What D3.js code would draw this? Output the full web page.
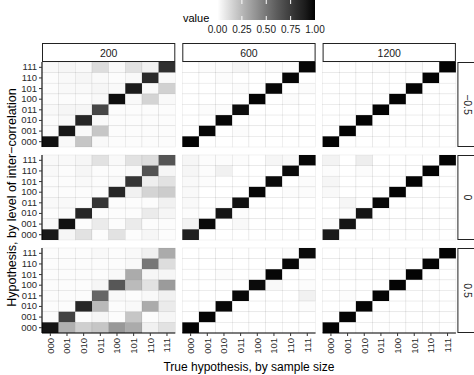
<!DOCTYPE html>
<html>
<head>
<meta charset="utf-8">
<script src="https://cdn.jsdelivr.net/npm/d3@7"></script>
<style>
  body { margin: 0; background: #fff; }
  text { font-family: "Liberation Sans", Arial, sans-serif; }
</style>
</head>
<body>
<div id="chart"></div>
<script>
// categories
var hyps = ["000", "001", "010", "011", "100", "101", "110", "111"];
var sampleSizes = ["200", "600", "1200"];
var correlations = ["\u22120.5", "0", "0.5"];
var legendTicks = [0, 0.25, 0.5, 0.75, 1];

// each panel: rows = hypothesis from 111 (top) down to 000, cols = true hypothesis 000..111
var n200_neg = [
  [0.02,0.03,0.02,0.12,0.02,0.10,0.05,0.80],
  [0.01,0.02,0.03,0.02,0.01,0.02,0.83,0.02],
  [0.01,0.02,0.02,0.03,0.02,0.90,0.02,0.16],
  [0.01,0.01,0.01,0.02,0.96,0.02,0.15,0.02],
  [0.02,0.03,0.03,0.70,0.01,0.01,0.01,0.01],
  [0.01,0.02,0.85,0.02,0.01,0.01,0.01,0.01],
  [0.01,0.92,0.02,0.20,0.01,0.01,0.01,0.01],
  [0.95,0.02,0.20,0.02,0.01,0.01,0.01,0.01]
];
var n200_zero = [
  [0.02,0.02,0.03,0.10,0.02,0.10,0.12,0.64],
  [0.02,0.01,0.03,0.01,0.01,0.02,0.65,0.03],
  [0.01,0.01,0.02,0.01,0.02,0.78,0.06,0.10],
  [0.01,0.01,0.01,0.01,0.85,0.05,0.15,0.18],
  [0.02,0.02,0.01,0.78,0.01,0.01,0.01,0.05],
  [0.01,0.01,0.85,0.01,0.01,0.01,0.07,0.03],
  [0.02,0.95,0.01,0.07,0.01,0.07,0.01,0.01],
  [0.92,0.03,0.10,0.01,0.10,0.01,0.03,0.01]
];
var n200_pos = [
  [0.01,0.01,0.01,0.02,0.01,0.02,0.05,0.30],
  [0.01,0.01,0.01,0.01,0.01,0.02,0.50,0.12],
  [0.01,0.01,0.01,0.01,0.02,0.30,0.03,0.03],
  [0.01,0.01,0.01,0.03,0.63,0.24,0.10,0.36],
  [0.01,0.01,0.01,0.57,0.02,0.01,0.02,0.05],
  [0.01,0.01,0.85,0.25,0.01,0.02,0.30,0.07],
  [0.01,0.72,0.01,0.03,0.01,0.20,0.01,0.03],
  [0.93,0.28,0.17,0.20,0.37,0.30,0.05,0.10]
];
var n600_neg = [
  [0.00,0.01,0.01,0.03,0.00,0.01,0.01,0.98],
  [0.00,0.00,0.01,0.00,0.00,0.00,0.98,0.00],
  [0.00,0.00,0.00,0.01,0.00,0.98,0.00,0.01],
  [0.00,0.00,0.00,0.00,0.99,0.00,0.01,0.00],
  [0.00,0.01,0.01,0.96,0.00,0.00,0.00,0.00],
  [0.00,0.00,0.98,0.00,0.00,0.00,0.00,0.00],
  [0.00,0.98,0.00,0.01,0.00,0.00,0.00,0.00],
  [0.99,0.00,0.00,0.00,0.00,0.00,0.00,0.00]
];
var n600_zero = [
  [0.03,0.01,0.01,0.01,0.00,0.03,0.02,0.98],
  [0.03,0.01,0.05,0.00,0.00,0.00,0.97,0.00],
  [0.02,0.01,0.00,0.00,0.00,0.97,0.00,0.01],
  [0.02,0.00,0.00,0.00,0.98,0.00,0.01,0.01],
  [0.02,0.00,0.01,0.95,0.00,0.00,0.00,0.00],
  [0.01,0.00,0.93,0.01,0.00,0.00,0.00,0.00],
  [0.04,0.97,0.00,0.02,0.00,0.00,0.00,0.00],
  [0.88,0.00,0.00,0.00,0.00,0.00,0.00,0.00]
];
var n600_pos = [
  [0.00,0.00,0.00,0.00,0.00,0.00,0.01,0.97],
  [0.00,0.00,0.00,0.00,0.00,0.00,0.98,0.01],
  [0.00,0.00,0.01,0.00,0.00,0.98,0.00,0.00],
  [0.00,0.00,0.00,0.00,0.97,0.02,0.00,0.01],
  [0.00,0.00,0.00,0.98,0.00,0.00,0.00,0.05],
  [0.00,0.00,0.98,0.00,0.00,0.00,0.00,0.01],
  [0.00,0.99,0.00,0.00,0.00,0.00,0.00,0.00],
  [0.99,0.00,0.00,0.00,0.00,0.00,0.00,0.00]
];
var n1200_neg = [
  [0.00,0.00,0.00,0.01,0.00,0.01,0.00,0.99],
  [0.00,0.00,0.00,0.00,0.00,0.00,0.99,0.00],
  [0.00,0.00,0.00,0.00,0.00,0.99,0.00,0.00],
  [0.00,0.00,0.00,0.00,0.99,0.00,0.00,0.00],
  [0.00,0.00,0.00,0.99,0.00,0.00,0.00,0.00],
  [0.00,0.00,0.99,0.00,0.00,0.00,0.00,0.00],
  [0.00,0.99,0.00,0.00,0.00,0.00,0.00,0.00],
  [0.99,0.00,0.00,0.00,0.00,0.00,0.00,0.00]
];
var n1200_zero = [
  [0.04,0.00,0.06,0.00,0.00,0.00,0.00,0.99],
  [0.01,0.00,0.01,0.00,0.00,0.00,0.99,0.00],
  [0.03,0.00,0.00,0.00,0.00,0.99,0.00,0.00],
  [0.02,0.00,0.00,0.00,0.99,0.00,0.00,0.00],
  [0.00,0.03,0.00,0.98,0.00,0.00,0.00,0.00],
  [0.00,0.01,0.93,0.00,0.00,0.00,0.00,0.00],
  [0.01,0.93,0.00,0.00,0.00,0.00,0.00,0.00],
  [0.90,0.00,0.00,0.00,0.00,0.00,0.00,0.00]
];
var n1200_pos = [
  [0.00,0.00,0.00,0.00,0.00,0.00,0.00,0.99],
  [0.00,0.00,0.00,0.00,0.00,0.00,0.99,0.00],
  [0.00,0.00,0.00,0.00,0.00,0.99,0.00,0.00],
  [0.00,0.00,0.00,0.00,0.99,0.00,0.00,0.00],
  [0.00,0.01,0.00,0.99,0.00,0.00,0.00,0.00],
  [0.00,0.00,0.99,0.00,0.00,0.00,0.00,0.00],
  [0.00,0.99,0.00,0.00,0.00,0.00,0.00,0.00],
  [0.99,0.00,0.00,0.00,0.00,0.00,0.00,0.00]
];

// grid[row][col]
var grid = [
  [n200_neg, n600_neg, n1200_neg],
  [n200_zero, n600_zero, n1200_zero],
  [n200_pos, n600_pos, n1200_pos]
];

var W = 474, H = 375;
var padLeft = 42, padTop = 62, pw = 133.3, ph = 85, gapX = 7, gapY = 8;

var svg = d3.select('#chart').append('svg')
  .attr('width', W).attr('height', H);

var fill = d3.scaleLinear().domain([0, 1]).range(['#ffffff', '#000000'])
  .interpolate(d3.interpolateLab);

var x = d3.scaleBand().domain(hyps).range([0, pw]);
var y = d3.scaleBand().domain(hyps.slice().reverse()).range([0, ph]);
var topDown = hyps.slice().reverse();

grid.forEach(function(rowPanels, ri){
  rowPanels.forEach(function(mat, ci){
    var gx = padLeft + ci * (pw + gapX), gy = padTop + ri * (ph + gapY);
    var g = svg.append('g').attr('transform', 'translate(' + gx + ',' + gy + ')');

    var cells = [];
    mat.forEach(function(r, i){
      r.forEach(function(v, j){
        cells.push({h: topDown[i], t: hyps[j], v: v});
      });
    });

    g.selectAll('rect.cell').data(cells).enter().append('rect')
      .attr('class', 'cell')
      .attr('x', function(d){ return x(d.t); })
      .attr('y', function(d){ return y(d.h); })
      .attr('width', x.bandwidth())
      .attr('height', y.bandwidth())
      .attr('fill', function(d){ return fill(d.v); })
      .attr('stroke', 'rgba(0,0,0,0.09)')
      .attr('stroke-width', 0.6);

    // left axis on first column
    if (ci == 0) {
      var ya = g.append('g').call(d3.axisLeft(y).tickSize(3).tickPadding(2));
      ya.select('.domain').attr('stroke', '#000').attr('stroke-width', 1.1)
        .attr('d', 'M0,0V' + ph);
      ya.selectAll('.tick line').attr('stroke', '#333');
      ya.selectAll('.tick text').attr('fill', '#2a2a2a')
        .style('font-size', '9.5px').style('font-family', '"Liberation Sans", Arial, sans-serif');
    }
    // bottom axis on last row
    if (ri == 2) {
      var xa = g.append('g').attr('transform', 'translate(0,' + ph + ')')
        .call(d3.axisBottom(x).tickSize(3).tickPadding(2));
      xa.select('.domain').attr('stroke', '#000').attr('stroke-width', 1.1)
        .attr('d', 'M0,0H' + pw);
      xa.selectAll('.tick line').attr('stroke', '#333');
      xa.selectAll('.tick text').attr('fill', '#2a2a2a')
        .style('font-size', '9.5px').style('font-family', '"Liberation Sans", Arial, sans-serif')
        .attr('transform', 'rotate(-90)')
        .attr('text-anchor', 'end')
        .attr('x', -5).attr('y', 0).attr('dy', '0.35em');
    }
  });
});

// top strips
sampleSizes.forEach(function(s, ci){
  var sx = padLeft + ci * (pw + gapX);
  svg.append('rect').attr('x', sx + 0.5).attr('y', 43.5)
    .attr('width', pw - 1).attr('height', 18)
    .attr('fill', '#fff').attr('stroke', '#222').attr('stroke-width', 1);
  svg.append('text').attr('x', sx + pw / 2).attr('y', 56.5)
    .attr('text-anchor', 'middle').style('font-size', '10.5px').attr('fill', '#1a1a1a')
    .text(s);
});

// right strips
var stripX = padLeft + 3 * pw + 2 * gapX + 1.5;
correlations.forEach(function(c, ri){
  var sy = padTop + ri * (ph + gapY);
  svg.append('rect').attr('x', stripX + 0.5).attr('y', sy + 0.5)
    .attr('width', 19).attr('height', ph - 1)
    .attr('fill', '#fff').attr('stroke', '#222').attr('stroke-width', 1);
  svg.append('text')
    .attr('transform', 'translate(' + (stripX + 7) + ',' + (sy + ph / 2) + ') rotate(90)')
    .attr('text-anchor', 'middle').style('font-size', '10.5px').attr('fill', '#1a1a1a')
    .text(c);
});

// axis titles
svg.append('text').attr('x', padLeft + (3 * pw + 2 * gapX) / 2).attr('y', 371)
  .attr('text-anchor', 'middle').style('font-size', '12px').attr('fill', '#000')
  .text('True hypothesis, by sample size');
svg.append('text')
  .attr('transform', 'translate(16,' + (padTop + (3 * ph + 2 * gapY) / 2) + ') rotate(-90)')
  .attr('text-anchor', 'middle').style('font-size', '12.5px').attr('fill', '#000')
  .text('Hypothesis, by level of inter\u2212correlation');

// legend
var lx = d3.scaleLinear().domain([0, 1]).range([217.5, 315]);
var defs = svg.append('defs');
var grad = defs.append('linearGradient').attr('id', 'lg');
d3.range(0, 1.0001, 0.1).forEach(function(t){
  grad.append('stop').attr('offset', t).attr('stop-color', fill(t));
});
svg.append('rect').attr('x', lx(0)).attr('y', 0)
  .attr('width', lx(1) - lx(0)).attr('height', 20).attr('fill', 'url(#lg)');
svg.selectAll('line.lt').data(legendTicks.slice(1, 4)).enter().append('line')
  .attr('x1', function(d){ return lx(d); }).attr('x2', function(d){ return lx(d); })
  .attr('y1', 0).attr('y2', 4).attr('stroke', '#fff');
svg.selectAll('line.lb').data(legendTicks.slice(1, 4)).enter().append('line')
  .attr('x1', function(d){ return lx(d); }).attr('x2', function(d){ return lx(d); })
  .attr('y1', 16).attr('y2', 20).attr('stroke', '#fff');
svg.selectAll('text.ll').data(legendTicks).enter().append('text')
  .attr('x', function(d){ return lx(d); }).attr('y', 33)
  .attr('text-anchor', 'middle').style('font-size', '10px').attr('fill', '#1a1a1a')
  .text(function(d){ return d3.format('.2f')(d); });
svg.append('text').attr('x', 183).attr('y', 22).style('font-size', '11px')
  .attr('fill', '#000').text('value');
</script>
</body>
</html>
